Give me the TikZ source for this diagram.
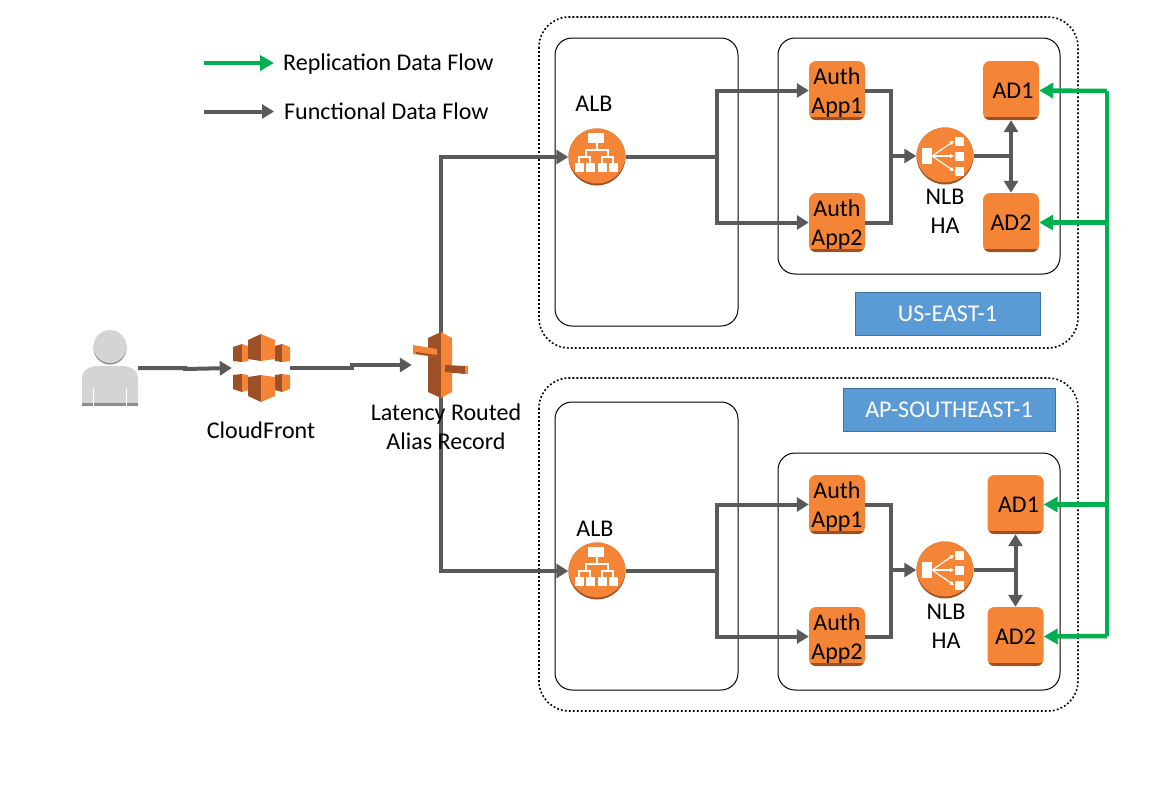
\documentclass[tikz,border=0pt]{standalone}
\usepackage{fontspec}
\setmainfont{Carlito}
\usetikzlibrary{arrows.meta}

\definecolor{awsorange}{HTML}{F58536}
\definecolor{awsdark}{HTML}{9D5025}
\definecolor{flowgray}{HTML}{595959}
\definecolor{flowgreen}{HTML}{00B050}
\definecolor{regionblue}{HTML}{5B9BD5}
\definecolor{regionedge}{HTML}{41719C}
\definecolor{usergray}{HTML}{D3D5D5}
\definecolor{userdark}{HTML}{8C8C8C}

\tikzset{
    txt/.style={font=\fontsize{24}{29}\selectfont, align=center, inner sep=0pt},
    region/.style={draw, line width=1.6pt, dash pattern=on 1.8pt off 2.2pt, rounded corners=30pt},
    subnet/.style={draw, line width=1pt, rounded corners=17pt},
    regionlabel/.style={txt, fill=regionblue, draw=regionedge, line width=0.8pt, text=white},
    orangebox/.style={fill=awsorange, rounded corners=7pt, minimum width=56pt, minimum height=59pt, inner sep=0pt,
        path picture={\fill[awsdark, sharp corners] (path picture bounding box.south west) rectangle ([yshift=3pt]path picture bounding box.south east);}},
    orangedisc/.style={circle, fill=awsdark, inner sep=0pt, minimum size=57pt,
        path picture={\fill[awsorange] ([yshift=2pt]path picture bounding box.center) circle (28.5pt);}},
    flow/.style={draw=flowgray, line width=4pt, -{Triangle[length=12pt,width=14pt]}},
    flowline/.style={draw=flowgray, line width=4pt},
    flowboth/.style={draw=flowgray, line width=4pt, {Triangle[length=12pt,width=14pt]}-{Triangle[length=12pt,width=14pt]}},
    greenflow/.style={draw=flowgreen, line width=4.5pt, -{Triangle[length=14pt,width=15pt]}},
    greenline/.style={draw=flowgreen, line width=4.5pt},
    albglyph/.pic={
        \fill[white] (-9,-24) rectangle (7,-14);
        \draw[white, line width=1.5pt] (0,-14) -- (0,-7) (-11,0) -- (-11,-7) -- (11,-7) -- (11,0)
            (-18,6) -- (-18,0) -- (-7,0) -- (-7,6) (5,6) -- (5,0) -- (16,0) -- (16,6);
        \foreach \bx in {-22,-11,1,12} {
            \fill[white] (\bx,6) rectangle (\bx+8.5,15);
        }
    },
    nlbglyph/.pic={
        \fill[white] (-23,-8) rectangle (-13,8);
        \foreach \by in {-15,0,15} {
            \draw[white, line width=1.2pt, -{Triangle[length=4pt,width=4pt]}] (-13,0) -- (9,\by);
            \fill[white] (10,\by-4.5) rectangle (19,\by+4.5);
        }
    },
    cfglyph/.pic={
        \foreach \sgn in {-1,1} {
            \begin{scope}[yscale=\sgn]
                \fill[awsdark] (-28,-21) -- (-19,-24) -- (-19,-6) -- (-28,-7) -- cycle;
                \fill[awsorange] (-19,-24) -- (-13,-22) -- (-13,-7) -- (-19,-6) -- cycle;
                \fill[awsdark] (14,-22) -- (21,-24) -- (21,-6) -- (14,-7) -- cycle;
                \fill[awsorange] (21,-24) -- (29,-21) -- (29,-7) -- (21,-6) -- cycle;
                \fill[awsdark] (-13,-28) -- (0,-34) -- (0,-7) -- (-13,-9) -- cycle;
                \fill[awsorange] (0,-34) -- (14,-28) -- (14,-9) -- (0,-7) -- cycle;
            \end{scope}
        }
    },
    r53glyph/.pic={
        \fill[awsdark] (-13,-27) -- (0,-33) -- (0,33) -- (-13,27) -- cycle;
        \fill[awsorange] (0,-33) -- (11,-27) -- (11,27) -- (0,33) -- cycle;
        \fill[awsdark] (4,0) -- (24,1) -- (24,9) -- (4,7) -- cycle;
        \fill[awsorange] (24,1) -- (27,1) -- (27,9) -- (24,9) -- cycle;
        \fill[awsorange] (-28,-20) -- (-4,-16) -- (-4,-8) -- (-28,-11) -- cycle;
        \fill[awsdark] (-25,-13) -- (-4,-10) -- (-4,-8) -- (-25,-11) -- cycle;
    },
    userglyph/.pic={
        \fill[userdark] (0,-20) circle (16.5pt);
        \fill[usergray] (0,-21.5) circle (16.5pt);
        \fill[usergray] (-28,38) -- (-28,10) .. controls (-28,2) and (-20,-2) .. (-12,-2) -- (12,-2) .. controls (20,-2) and (28,2) .. (28,10) -- (28,38) -- cycle;
        \fill[userdark] (-28,35) rectangle (28,38);
        \fill[white] (-17.5,20) rectangle (-16,38);
        \fill[white] (15.5,20) rectangle (17,38);
    }
}

\begin{document}
\begin{tikzpicture}[x=1pt, y=-1pt]

    \useasboundingbox (0,0) rectangle (1157,796);

    \draw[region] (539,17) rectangle (1078,348);
    \draw[region] (539,378) rectangle (1078,711);
    \draw[subnet] (555,38) rectangle (738,326);
    \draw[subnet] (778,38) rectangle (1060,274);
    \draw[subnet] (555,402) rectangle (738,690);
    \draw[subnet] (778,453) rectangle (1060,690);

    \node[regionlabel, minimum width=185pt, minimum height=43pt] (useast) at (947.5,313.5) {US-EAST-1};
    \node[regionlabel, minimum width=212pt, minimum height=43pt] (apsoutheast) at (949,409.5) {AP-SOUTHEAST-1};

    \foreach \nm/\x/\y/\lbl in {authupa/837/90.5/App1, authupb/837/222.5/App2, authdna/837/504.5/App1, authdnb/837/636.5/App2} {
        \node[orangebox] (\nm) at (\x,\y) {};
        \node[txt] (\nm txt) at ([yshift=-2.5pt]\nm) {Auth\\\lbl};
    }
    \foreach \nm/\x/\y/\dx/\lbl in {adupa/1011/90.5/2/AD1, adupb/1011/222.5/0/AD2, addna/1015.5/504.5/3/AD1, addnb/1015.5/636.5/0/AD2} {
        \node[orangebox] (\nm) at (\x,\y) {};
        \node[txt] (\nm txt) at ([xshift=\dx pt]\nm) {\lbl};
    }

    \node[orangedisc] (albup) at (597,157) {};
    \node[orangedisc] (albdn) at (597,571) {};
    \node[orangedisc] (nlbup) at (945,156) {};
    \node[orangedisc] (nlbdn) at (945,570) {};

    \node[inner sep=0pt, minimum width=56pt, minimum height=68pt] (user) at (110,368) {};
    \node[inner sep=0pt, minimum width=58pt, minimum height=68pt] (cloudfront) at (261,368) {};
    \node[inner sep=0pt, minimum width=58pt, minimum height=66pt] (route) at (441,365) {};

    \coordinate (branchup) at (717,157);
    \coordinate (branchdn) at (717,571);
    \coordinate (joinup) at (891,156);
    \coordinate (joindn) at (891,570);
    \coordinate (teeup) at (1011,156);
    \coordinate (teedn) at (1015.5,570);
    \coordinate (greentop) at (1107,91);
    \coordinate (greenbot) at (1107,636);

    \draw[flow] (route.center) |- (albup.west);
    \draw[flow] (route.center) |- (albdn.west);
    \draw[flow] (user.east) -- ++(47,0) -- ++(0,1) -- (cloudfront.west);
    \draw[flow] (cloudfront.east) -- ++(62,0) -- ++(0,-3) -- (route.west);

    \draw[flowline] (albup.east) -- (branchup);
    \draw[flow] (branchup) |- (authupa.west);
    \draw[flow] (branchup) |- (authupb.west);
    \draw[flowline] (albdn.east) -- (branchdn);
    \draw[flow] (branchdn) |- (authdna.west);
    \draw[flow] (branchdn) |- (authdnb.west);

    \draw[flowline] (authupa.east) -| (joinup);
    \draw[flowline] (authupb.east) -| (joinup);
    \draw[flow] (joinup) -- (nlbup.west);
    \draw[flowline] (authdna.east) -| (joindn);
    \draw[flowline] (authdnb.east) -| (joindn);
    \draw[flow] (joindn) -- (nlbdn.west);

    \draw[flowline] (nlbup.east) -- (teeup);
    \draw[flowboth] (adupa.south) -- (adupb.north);
    \draw[flowline] (nlbdn.east) -- (teedn);
    \draw[flowboth] (addna.south) -- (addnb.north);

    \draw[greenline] (greentop) -- (greenbot);
    \draw[greenflow] (greentop) -- (adupa.east);
    \draw[greenflow] (greentop |- adupb.east) -- (adupb.east);
    \draw[greenflow] (greentop |- addna.east) -- (addna.east);
    \draw[greenflow] (greenbot) -- (addnb.east);

    \pic at (albup) {albglyph};
    \pic at (albdn) {albglyph};
    \pic at (nlbup) {nlbglyph};
    \pic at (nlbdn) {nlbglyph};
    \pic at (cloudfront) {cfglyph};
    \pic at (route) {r53glyph};
    \pic at (user) {userglyph};

    \node[txt] (albuplabel) at (594,104) {ALB};
    \node[txt] (albdnlabel) at (595,529) {ALB};
    \node[txt] (nlbuplabel) at (945,211) {NLB\\HA};
    \node[txt] (nlbdnlabel) at (946,626) {NLB\\HA};
    \node[txt] (cflabel) at (261,430) {CloudFront};
    \node[txt] (routelabel) at (446,427) {Latency Routed\\Alias Record};

    \coordinate (legendgreen) at (204,63);
    \coordinate (legendgreenend) at (274,63);
    \coordinate (legendgray) at (204,111.5);
    \coordinate (legendgrayend) at (274,111.5);
    \node[txt, anchor=west] (greenlabel) at (283,64.5) {Replication Data Flow};
    \node[txt, anchor=west] (graylabel) at (284,111.5) {Functional Data Flow};
    \draw[greenflow] (legendgreen) -- (legendgreenend);
    \draw[flow] (legendgray) -- (legendgrayend);

\end{tikzpicture}
\end{document}
